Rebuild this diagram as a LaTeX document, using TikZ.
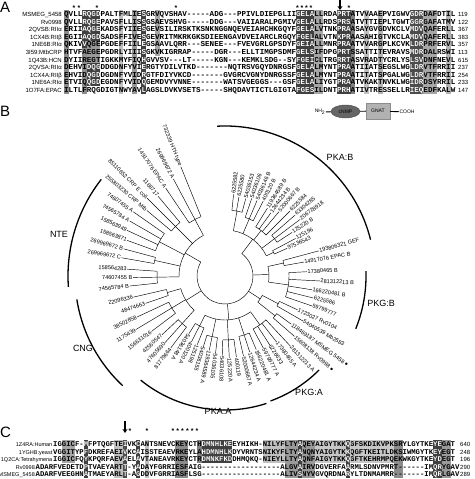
\documentclass[tikz,border=0pt]{standalone}
\usepackage{fontspec}
\setmainfont{Liberation Sans}
\setmonofont{Liberation Mono}
\usetikzlibrary{arrows.meta,shapes.geometric}

% alignment rows of panel A (label / sequence / residue number); #2 = extra per-row code
\newcommand\seqrowsA[2]{%
  \foreach \lab/\seq/\num [count=\i] in {%
    MSMEG\_5458/QVLLRQGDPALTFMLIESGRVQVSHAV-----ADG---PPIVLDIEPGLIIGELALLRDAPRTATVVAAEPVIGWVGDRDAFDTIL/119,
    Rv0998/QVLLRQGEPAVSFLLISSGSAEVSHVG-----DDG---VAIIARALPGMIVGELALLRDSPRSATVTTIEPLTGWTGGRGAFATMV/122,
    2QVSB:RIIα/ERIIAQGEKADSFYIIESGEVSILIRSKTKSNKNGGNQEVEIAHCHKGQYFGELALVTNKPRAASAYGVGDVKCLVMDVQAFERLL/367,
    1CX4B:RIIβ/EGIIAQGDSADSFFIVESGEVRITMKRKGKSDIEENGAVDVEIARCLRGQYFGELALVTNKPRAASAHIGTVKCLAMDVQAFERLL/383,
    1NE6B:RIα/QKIVVQGEPGDEFFIILEGSAAVLQRR---SENEE---FVEVGRLGPSDYFGEIALLMNRPRAATVVARGPLKCVKLDRPRFERVL/357,
    3I59:MtbCRP/HTVFAEGEPGDRLYIIISGKVKIGRRAP-----DGR---ELLTIMGPSDMFGELSIFDPGPRTSSATTITEVRAVSMDRDALRSWI/113,
    1Q43B:HCN/DYIIREGTIGKKMYFIQHGVVSV---LT-----KGN---KEMKLSDG--SYFGEICLTRGRRTASVRADTYCRLYSLSVDNFNEVL/615,
    2QVSA:RIIα/DEHVIDQGDDGDNFYVIERGTYDILVTKD-------NQTRSVGQYDNRGSFGELALMYNTPRAATIIATSEGSLWGLDRVTFRRII/237,
    1CX4A:RIIβ/EHVIDQGDDGDNFYVIDRGTFDIYVKCD-------GVGRCVGNYDNRGSSFGELALMYNTPRAATITATSPGALWGLDRVTFRRII/254,
    1NE6A:RIα/ETVIQQGDEGDNFYVIDQGEMDVYVNNE-------WATSVGEGGS---GSFGELALIYGTPRAATVKAKTNVKLWGIDRDSYRRIL/233,
    1O7FA:EPAC/ILTLFRQGDIGTNWYAVLAGSLDVKVSETS-----SHQDAVTICTLGIGTAFGESILDNTPRHATIVTRESSELLRIEQEDFKALW/147}{%
    \node[seqA, text=#1] (sqA\i) at (64,{16.5+7.6*(\i-1)}) {\seq};
    #2
  }}

% alignment rows of panel C (label / lead-in columns / sequence / number)
\newcommand\seqrowsC[2]{%
  \foreach \lab/\off/\seq/\num [count=\i] in {%
    1Z4RA:Human/0/IGGICF-MFPTQGFTEIVKCANTSNEVCKEYCTHDMNHLKEEYHIKH-NILYFLTYAQEYAIGYTKKQGFSKDIKVPKSRYLGYTKEYEGAT/640,
    1YGHB:yeast/0/VGGITYPFDKREFAEIVKCAISSTEAEVRKEYLAHDMNHLKDYVRNTSNIKYFLTYANQNYAIGYTKKQGFTKEITLDKSIWMGYTKEYEGT/248,
    1Q2CA:Tetrahymena/0/IGGICFQYKPQRFAEVAELAVTANEAVRKEYCTRDMNKFKDDHMQKQ-NIEYLLTYAQNFAIGYTKKQGFTKEHRMPQEKWKGYTKEYDEGT/196,
    Rv0998/4/ADARFVEDETDPTVAEYARTT-YADAYFGRRIESFAIG------------------ALGVAIRVDGVERFAARMLSDNVPMRT------IMQRYGAV/290,
    MSMEG\_5458/4/ADARFVEEGHNATMAEYARLT-AGDDVFGRRIASFLSG------------------ALIVSNYVGVQRDNARYLTDNMAMRR-------IMQRLGAV/289}{%
    \node[seqC, text=#1] (sqC\i) at ({53-\off*4.37},{446.5+7.5*(\i-1)}) {\seq};
    #2
  }}

\begin{document}
\begin{tikzpicture}[x=1pt, y=-1pt, >={Stealth[round]},
  seqA/.style={font=\ttfamily\bfseries\fontsize{7.58}{8}\selectfont, inner sep=0pt,
    anchor=base west, text height=5pt, text depth=1pt},
  seqC/.style={font=\ttfamily\bfseries\fontsize{7.28}{8}\selectfont, inner sep=0pt,
    anchor=base west, text height=5pt, text depth=1pt},
  labA/.style={font=\fontsize{6}{6}\selectfont, inner sep=0pt, anchor=base east,
    text height=4.5pt, text depth=1pt},
  labC/.style={font=\fontsize{5.5}{5.5}\selectfont, inner sep=0pt, anchor=base east,
    text height=4.2pt, text depth=1pt},
  numtxt/.style={font=\fontsize{6}{6}\selectfont, inner sep=0pt, anchor=base west,
    text height=4.5pt, text depth=0.5pt},
  startxt/.style={font=\fontsize{7}{7}\selectfont\bfseries, inner sep=0pt, anchor=base},
  branch/.style={line width=0.45pt},
  leaf/.style={font=\fontsize{5.6}{5.6}\selectfont, inner sep=0.5pt, text height=4pt,
    text depth=0.3pt},
  cladearc/.style={line width=1.3pt},
  cladelab/.style={font=\fontsize{9}{9}\selectfont, inner sep=0pt},
  panel/.style={font=\fontsize{15}{15}\selectfont, inner sep=0pt, anchor=north west}]
\useasboundingbox (0,0) rectangle (474,479);

% panel letters
\node[panel] (pA) at (0,2) {A};
\node[panel] (pB) at (0,106) {B};
\node[panel] (pC) at (0,427) {C};

% ---- A: shaded columns
\foreach \c/\n/\s/\ra/\rb in {0/1/45/1/11, 4/1/75/1/5, 4/1/45/6/11, 5/3/75/1/4, 5/3/40/5/7,
    5/3/75/8/10, 12/1/25/1/11, 15/1/40/1/11, 17/1/75/1/11, 20/1/35/1/6, 51/4/75/1/11,
    55/2/35/1/11, 60/3/75/1/11, 63/1/50/1/11, 66/1/25/1/11, 69/1/30/1/11, 76/3/70/1/11,
    79/3/35/1/11, 84/1/30/1/11}
  \fill[black!\s] ({64+\c*4.55},{10.2+7.6*(\ra-1)}) rectangle ++({\n*4.55},{7.6*(\rb-\ra+1)});
\seqrowsA{black}{%
  \node[labA] (lbA\i) at (62,{16.5+7.6*(\i-1)}) {\lab};
  \node[numtxt] (nmA\i) at (458,{16.5+7.6*(\i-1)}) {\num};}
\begin{scope}
  \clip \foreach \c/\n/\ra/\rb in {4/1/1/5, 5/3/1/4, 5/3/8/10, 17/1/1/11, 51/4/1/11,
      60/3/1/11, 76/3/1/11}
    { ({64+\c*4.55},{10.2+7.6*(\ra-1)}) rectangle ++({\n*4.55},{7.6*(\rb-\ra+1)}) };
  \seqrowsA{white}{}
\end{scope}
\foreach \sx [count=\i] in {74,79,97,176,297.5,302,306.5,311,349}
  \node[startxt] (stA\i) at (\sx,10) {*};
\coordinate (arrAs) at (340,0);
\coordinate (arrAe) at (340,10);
\draw[-{Stealth[length=4pt,width=5pt]}, line width=1.3pt] (arrAs) -- (arrAe);

% ---- B: domain sketch
\node[font=\fontsize{5}{5}\selectfont, inner sep=0.5pt] (nterm) at (320,112) {NH\textsubscript{2}};
\node[ellipse, draw=black!70, fill=black!60, minimum width=29pt, minimum height=13pt,
  inner sep=0pt, font=\fontsize{5}{5}\selectfont] (cnmp) at (345.5,111.5) {cNMP};
\node[draw=black!45, fill=black!30, minimum width=24pt, minimum height=16pt,
  inner sep=0pt, font=\fontsize{5}{5}\selectfont] (gnat) at (378,111) {GNAT};
\node[font=\fontsize{5}{5}\selectfont, inner sep=0.5pt] (cterm) at (407,112) {COOH};
\draw[line width=0.9pt] (nterm) -- (cnmp);
\draw[line width=0.9pt] (cnmp) -- (gnat);
\draw[line width=0.9pt] (gnat) -- (cterm);

% ---- B: circular tree
\begin{scope}[shift={(225,276)}, yscale=-1]
  % leaves, labels reading outward
  \foreach \a/\rp/\rt/\txt [count=\i] in {84/66/82/6225582, 80/66/80/6225580, 75/66/80/54036153,
      71/62/82/54036106, 67/62/82/54036146 B, 63/62/84/400120 B, 58/58/80/119364589 B,
      54/58/78/12644234 B, 50/58/84/52000667 B, 45/58/92/6225584, 41/62/93/63304285,
      37/62/94/206728918, 33/62/80/125220 B, 28/54/80/125196, 24/54/68/97536543,
      15/60/97/193806321 GEF, 10/60/80/14917076 EPAC B, 3/64/82/17380465 B,
      -3/64/95/281312213 B, -9/64/88/166220481 B, -14/64/91/6225586, -19/64/92/59799777,
      -25/60/80/1723027 Rv0104, -30/60/90/54040539 Mb2583, -36/64/82/118469187 MSMEG 5458 ●,
      -41/64/92/15608138 Rv0998 ●, -47/60/96/281312213 A, -52/60/84/17380465 A,
      -57/60/82/6226633, -62/60/82/59799777 A, -67/62/80/166220481 A, -72/62/80/12644234 A,
      -77/62/82/52000667 A, -82/64/82/400119, -87/64/82/125220 A, -92/64/80/54036108,
      -97/62/78/54036105, -102/62/76/119364589 A, -107/62/74/54036155, -112/56/74/125198,
      -117/56/74/400120 A, -122/56/68/54036148 A}{
    \node[leaf, anchor=west, rotate=\a] (lr\i) at (\a:\rt) {\txt};
    \draw[branch] (\a:\rp) -- (lr\i.west);
  }
  % leaves, labels turned to read inward
  \foreach \a/\rp/\rt/\txt [count=\i] in {233/64/90/81779664, 228/64/90/47605690,
      223/64/86/42560547, 217/62/92/156631016, 211/62/104/1175439, 205/62/97/38502858,
      199/60/84/48474663, 193/60/94/22096336, 186/68/96/74565784 B, 181/68/92/74607455 B,
      176/68/98/158564283, 170/72/105/269969672 C, 165/72/105/269969672 B,
      160/74/104/158563871, 155/74/108/158563949, 150/74/110/74565784 A,
      145/74/112/74607455 A, 140/70/102/255803230 CRP Mtb, 135/70/110/85110652 CRP E coli,
      130/70/104/1168717, 124/64/106/14917076 EPAC A, 118/64/110/269969672 A,
      112/64/118/732339 HTH type}{
    \node[leaf, anchor=east, rotate=\a-180] (ll\i) at (\a:\rt) {\txt};
    \draw[branch] (\a:\rp) -- (ll\i.east);
  }
  % small clades
  \foreach \a/\b/\r/\lo in {84/75/66/46, 71/63/62/46, 58/45/58/46, 41/33/62/46, 28/24/54/46,
      15/10/60/44, 3/-19/64/44, -25/-30/60/42, -36/-41/64/42,
      -47/-62/60/44, -67/-77/62/44, -82/-92/64/44, -97/-107/62/44, -112/-122/56/44,
      233/223/64/46, 217/205/62/46, 199/193/60/46,
      186/176/68/46, 170/165/72/46, 160/145/74/46, 140/130/70/46, 124/112/64/46}{
    \draw[branch] (\a:\r) arc[start angle=\a, end angle=\b, radius=\r];
    \draw[branch] ({(\a+\b)/2}:\lo) -- ({(\a+\b)/2}:\r);
  }
  % major groups
  \foreach \a/\b/\m/\r in {79.5/26/53/46, 12.5/-8/2/44, -27.5/-38.5/-33/42,
      -54.5/-117/-85/44, 228/196/212/46, 181/118/150/46}{
    \draw[branch] (\a:\r) arc[start angle=\a, end angle=\b, radius=\r];
    \draw[branch] (\m:28) -- (\m:\r);
  }
  \draw[branch] (53:28) arc[start angle=53, end angle=-210, radius=28];
  % group brackets
  \draw[cladearc] (93:150) arc[start angle=93, end angle=14, radius=150];
  \draw[cladearc] (2:141) arc[start angle=2, end angle=-22, radius=141];
  \draw[cladearc] (-45:133) arc[start angle=-45, end angle=-70, radius=133];
  \draw[cladearc] (231:134) arc[start angle=231, end angle=288, radius=134];
  \draw[cladearc] (189:150) arc[start angle=189, end angle=227, radius=150];
  \draw[cladearc] (142:157) arc[start angle=142, end angle=184, radius=157];
\end{scope}
\node[cladelab] (gPKAB) at (340,157) {PKA:B};
\node[cladelab] (gPKGB) at (381,303) {PKG:B};
\node[cladelab] (gPKGA) at (309,392) {PKG:A};
\node[cladelab] (gPKAA) at (218,411) {PKA:A};
\node[cladelab] (gNTE) at (59,234) {NTE};
\node[cladelab] (gCNG) at (83,348) {CNG};

% ---- C: shaded columns
\foreach \c/\n/\s/\ra/\rb in {2/3/35/1/3, 7/1/75/1/5, 14/2/25/1/5, 16/1/70/1/5, 19/1/75/1/5,
    21/1/25/1/5, 28/3/45/1/5, 33/1/50/1/3, 34/7/75/1/3, 48/5/25/1/3, 53/7/40/1/5,
    56/1/75/1/5, 60/7/22/1/3, 67/1/75/1/5, 68/10/22/1/3, 78/2/45/1/5, 87/2/75/1/5,
    89/2/40/1/5}
  \fill[black!\s] ({53+\c*4.37},{440.25+7.5*(\ra-1)}) rectangle ++({\n*4.37},{7.5*(\rb-\ra+1)});
\seqrowsC{black}{%
  \node[labC] (lbC\i) at ({52.5-\off*4.37},{446.5+7.5*(\i-1)}) {\lab};
  \node[numtxt] (nmC\i) at (460,{446.5+7.5*(\i-1)}) {\num};}
\begin{scope}
  \clip \foreach \c/\n/\ra/\rb in {7/1/1/5, 16/1/1/5, 19/1/1/5, 34/7/1/3, 56/1/1/5,
      67/1/1/5, 87/2/1/5}
    { ({53+\c*4.37},{440.25+7.5*(\ra-1)}) rectangle ++({\n*4.37},{7.5*(\rb-\ra+1)}) };
  \seqrowsC{white}{}
\end{scope}
\foreach \sx [count=\i] in {130,147,173,177.8,182.6,187.4,192.2,197}
  \node[startxt] (stC\i) at (\sx,433) {*};
\coordinate (arrCs) at (125,421);
\coordinate (arrCe) at (125,433);
\draw[-{Stealth[length=4pt,width=5pt]}, line width=1.3pt] (arrCs) -- (arrCe);
\end{tikzpicture}
\end{document}
